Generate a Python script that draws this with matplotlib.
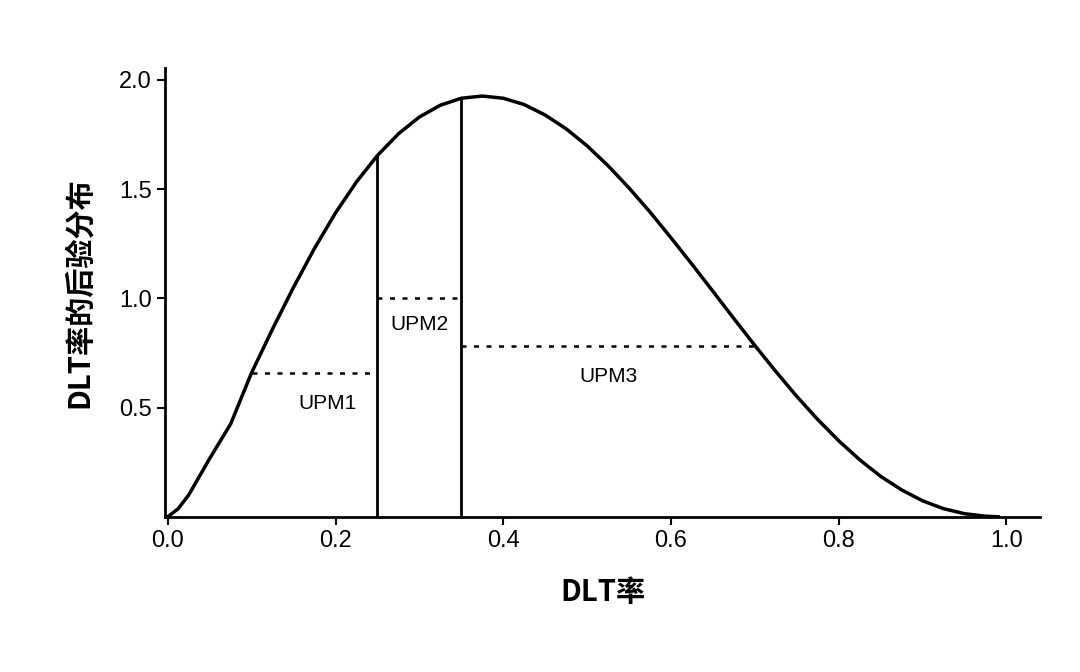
import matplotlib.pyplot as plt

plt.rcParams['font.family'] = ['Noto Sans CJK SC', 'DejaVu Sans']

# posterior density
x_vals = [0.0, 0.0125, 0.025, 0.05, 0.075, 0.1, 0.125, 0.15, 0.175, 0.2, 0.225,
          0.25, 0.275, 0.3, 0.325, 0.35, 0.375, 0.4, 0.425, 0.45, 0.475, 0.5,
          0.525, 0.55, 0.575, 0.6, 0.625, 0.65, 0.675, 0.7, 0.725, 0.75,
          0.775, 0.8, 0.825, 0.85, 0.875, 0.9, 0.925, 0.95, 0.975, 0.99]
density = [0.0, 0.037, 0.10, 0.267, 0.425, 0.66, 0.860, 1.051, 1.229, 1.391,
           1.533, 1.654, 1.753, 1.830, 1.884, 1.916, 1.926, 1.916, 1.887,
           1.839, 1.776, 1.698, 1.607, 1.505, 1.395, 1.277, 1.156, 1.032,
           0.907, 0.784, 0.665, 0.551, 0.445, 0.348, 0.261, 0.185, 0.123,
           0.073, 0.037, 0.014, 0.0026, 0.0]

# interval bounds and average levels
upm_names = ["UPM1", "UPM2", "UPM3"]
upm_lo = [0.10, 0.25, 0.35]
upm_hi = [0.25, 0.35, 0.70]
upm_level = [0.66, 1.0, 0.784]
cut_x = [0.25, 0.35]
cut_top = [1.654, 1.916]
label_pos = [(0.19, 0.52), (0.30, 0.88), (0.525, 0.64)]

fig = plt.figure(figsize=(10.8, 6.72), dpi=100)
ax = fig.add_axes([0.153, 0.231, 0.81, 0.668])

ax.plot(x_vals, density, color="black", lw=2.5, solid_joinstyle="round")
ax.vlines(cut_x, 0, cut_top, color="black", lw=2)
for name, lo, hi, lev, pos in zip(upm_names, upm_lo, upm_hi, upm_level, label_pos):
    ax.hlines(lev, lo, hi, color="black", lw=1.8, linestyles=(0, (2, 3)))
    ax.text(pos[0], pos[1], name, ha="center", va="center", fontsize=15,
            family="Liberation Sans")

ax.set_xlim(-0.003, 1.04)
ax.set_ylim(0, 2.055)
ax.set_xticks([0.0, 0.2, 0.4, 0.6, 0.8, 1.0])
ax.set_yticks([0.5, 1.0, 1.5, 2.0])
ax.tick_params(labelsize=17, width=1.5, length=6)
for lab in ax.get_xticklabels() + ax.get_yticklabels():
    lab.set_family("Liberation Sans")
for s in ["top", "right"]:
    ax.spines[s].set_visible(False)
for s in ["left", "bottom"]:
    ax.spines[s].set_linewidth(2)

ax.set_xlabel("DLT率", fontsize=21, fontweight="bold", labelpad=18)
ax.set_ylabel("DLT率的后验分布", fontsize=21, fontweight="bold", labelpad=18)

plt.savefig("out.png")
